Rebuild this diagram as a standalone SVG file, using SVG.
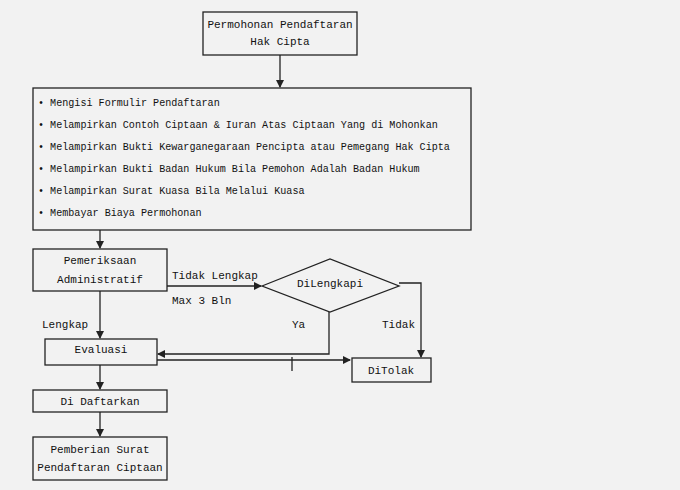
<svg xmlns="http://www.w3.org/2000/svg" width="680" height="490" viewBox="0 0 680 490">
<style>
rect{fill:none;stroke:#222;stroke-width:1.3}
text{font-family:"Liberation Mono",monospace;font-size:11px;fill:#111}
.c{text-anchor:middle}
.l{font-size:10.1px}
line,polyline{stroke:#222;stroke-width:1.3;fill:none}
</style>
<defs><marker id="a" markerWidth="8" markerHeight="8" refX="7" refY="4" orient="auto" markerUnits="userSpaceOnUse"><path d="M0,0 L8,4 L0,8z" fill="#222"/></marker></defs>
<rect x="0" y="0" width="680" height="490" style="fill:#f2f2f2;stroke:none"/>
<g id="connectors">
<line x1="280" y1="55" x2="280" y2="87" marker-end="url(#a)"/>
<line x1="100" y1="230" x2="100" y2="248" marker-end="url(#a)"/>
<line x1="167" y1="286" x2="261" y2="286" marker-end="url(#a)"/>
<line x1="100" y1="291" x2="100" y2="338" marker-end="url(#a)"/>
<polyline points="329,312 329,354 158,354" marker-end="url(#a)"/>
<line x1="157" y1="360" x2="350" y2="360" marker-end="url(#a)"/>
<line x1="292" y1="357" x2="292" y2="371"/>
<polyline points="399,283 421,283 421,357" marker-end="url(#a)"/>
<line x1="100" y1="365" x2="100" y2="389" marker-end="url(#a)"/>
<line x1="100" y1="412" x2="100" y2="436" marker-end="url(#a)"/>
<text x="172" y="279">Tidak Lengkap</text>
<text x="172" y="304">Max 3 Bln</text>
<text x="42" y="328">Lengkap</text>
<text x="292" y="328">Ya</text>
<text x="382" y="328">Tidak</text>
</g>
<g id="n1"><rect x="203" y="12" width="154" height="43"/><text class="c" x="280" y="28">Permohonan Pendaftaran</text><text class="c" x="280" y="45">Hak Cipta</text></g>
<g id="n2"><rect x="33" y="88" width="438" height="142"/>
<text class="l" x="38" y="106">• Mengisi Formulir Pendaftaran</text>
<text class="l" x="38" y="128">• Melampirkan Contoh Ciptaan &amp; Iuran Atas Ciptaan Yang di Mohonkan</text>
<text class="l" x="38" y="150">• Melampirkan Bukti Kewarganegaraan Pencipta atau Pemegang Hak Cipta</text>
<text class="l" x="38" y="172">• Melampirkan Bukti Badan Hukum Bila Pemohon Adalah Badan Hukum</text>
<text class="l" x="38" y="194">• Melampirkan Surat Kuasa Bila Melalui Kuasa</text>
<text class="l" x="38" y="216">• Membayar Biaya Permohonan</text></g>
<g id="n3"><rect x="33" y="249" width="134" height="42"/><text class="c" x="100" y="264">Pemeriksaan</text><text class="c" x="100" y="283">Administratif</text></g>
<g id="n4"><polygon points="262,286 330,259 399,286 330,312" style="fill:none;stroke:#222;stroke-width:1.3"/><text class="c" x="330" y="287">DiLengkapi</text></g>
<g id="n5"><rect x="45" y="339" width="112" height="26"/><text class="c" x="101" y="353">Evaluasi</text></g>
<g id="n6"><rect x="352" y="358" width="79" height="24"/><text class="c" x="391" y="374">DiTolak</text></g>
<g id="n7"><rect x="33" y="390" width="134" height="22"/><text class="c" x="100" y="405">Di Daftarkan</text></g>
<g id="n8"><rect x="33" y="437" width="134" height="43"/><text class="c" x="100" y="453">Pemberian Surat</text><text class="c" x="100" y="471">Pendaftaran Ciptaan</text></g>
</svg>
